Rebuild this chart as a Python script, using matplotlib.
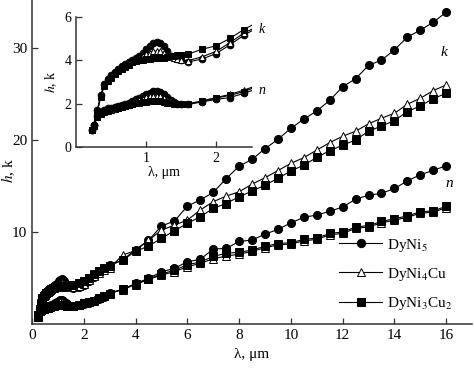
import matplotlib
matplotlib.use("Agg")
import matplotlib.pyplot as plt

plt.rcParams['font.family'] = ['Liberation Serif', 'DejaVu Serif']
plt.rcParams['mathtext.fontset'] = 'stix'

# dalga boyu (um) - kisa dalga bolgesi sik olculmus
lam_short = [0.22, 0.25, 0.30, 0.35, 0.40, 0.45, 0.50, 0.55, 0.60, 0.65, 0.70, 0.75,
             0.80, 0.85, 0.90, 0.95, 1.00, 1.05, 1.10, 1.15, 1.20, 1.25, 1.30,
             1.35, 1.40, 1.45, 1.50, 1.60, 1.80, 2.00, 2.20, 2.40, 2.60, 2.80]
lam_long = [3.0, 3.5, 4.0, 4.5, 5.0, 5.5, 6.0, 6.5, 7.0, 7.5, 8.0, 8.5, 9.0,
            9.5, 10.0, 10.5, 11.0, 11.5, 12.0, 12.5, 13.0, 13.5, 14.0, 14.5,
            15.0, 15.5, 16.0]

# k (sonum katsayisi)
k_ni5_short = [0.8, 1.0, 1.7, 2.4, 2.9, 3.15, 3.3, 3.45, 3.6, 3.72, 3.82, 3.92,
               4.0, 4.1, 4.2, 4.35, 4.5, 4.65, 4.8, 4.85, 4.8, 4.65, 4.4,
               4.2, 4.1, 4.05, 4.0, 3.92, 4.05, 4.3, 4.7, 5.15, 5.5, 5.95]
k_ni4cu_short = [0.8, 1.0, 1.65, 2.35, 2.85, 3.1, 3.25, 3.4, 3.55, 3.67, 3.77, 3.87,
                 3.95, 4.03, 4.1, 4.2, 4.28, 4.35, 4.4, 4.42, 4.4, 4.35, 4.25,
                 4.15, 4.1, 4.05, 4.0, 3.98, 4.15, 4.4, 4.8, 5.25, 5.55, 5.85]
k_ni3cu2_short = [0.8, 0.95, 1.6, 2.3, 2.8, 3.05, 3.2, 3.35, 3.5, 3.6, 3.7, 3.8,
                  3.9, 3.95, 4.0, 4.02, 4.05, 4.05, 4.08, 4.08, 4.1, 4.12, 4.15,
                  4.18, 4.2, 4.22, 4.25, 4.28, 4.5, 4.66, 5.0, 5.41, 5.75, 6.05]

k_ni5_long = [6.45, 6.96, 8.1, 9.1, 10.65, 11.2, 12.8, 13.5, 14.3, 15.8, 17.15,
              17.9, 19.05, 20.07, 21.27, 22.26, 23.15, 24.3, 25.78, 26.65, 28.1,
              28.68, 29.78, 31.18, 31.92, 32.79, 33.88]
k_ni4cu_long = [6.1, 7.5, 8.0, 9.1, 10.2, 10.75, 11.3, 12.39, 13.3, 13.9, 14.38,
                15.2, 15.9, 16.67, 17.46, 18.08, 18.9, 19.71, 20.4, 20.95, 21.75,
                22.36, 22.9, 23.88, 24.53, 25.36, 25.98]
k_ni3cu2_long = [6.35, 6.96, 7.9, 8.48, 9.31, 10.14, 10.94, 11.67, 12.57, 13.1,
                 13.84, 14.45, 15.1, 15.83, 16.63, 17.28, 18.1, 18.84, 19.43,
                 20.0, 20.95, 21.52, 22.1, 23.08, 23.7, 24.49, 25.07]

# n (kirilma indisi)
n_ni5_short = [0.8, 1.0, 1.45, 1.62, 1.72, 1.78, 1.82, 1.86, 1.9, 1.95, 2.0, 2.05,
               2.12, 2.2, 2.28, 2.36, 2.42, 2.5, 2.57, 2.6, 2.55, 2.45, 2.3,
               2.15, 2.06, 2.0, 1.98, 1.96, 2.08, 2.19, 2.28, 2.47, 2.7, 3.0]
n_ni4cu_short = [0.8, 0.95, 1.4, 1.55, 1.65, 1.7, 1.75, 1.78, 1.82, 1.86, 1.9, 1.94,
                 2.0, 2.08, 2.15, 2.22, 2.3, 2.33, 2.35, 2.36, 2.33, 2.27, 2.18,
                 2.1, 2.05, 2.02, 2.0, 2.0, 2.12, 2.28, 2.42, 2.62, 2.85, 3.1]
n_ni3cu2_short = [0.8, 0.95, 1.38, 1.52, 1.62, 1.68, 1.72, 1.76, 1.8, 1.84, 1.88, 1.93,
                  1.98, 2.02, 2.05, 2.07, 2.08, 2.1, 2.1, 2.1, 2.1, 2.08, 2.05,
                  2.02, 2.0, 1.98, 1.97, 1.98, 2.1, 2.25, 2.38, 2.55, 2.8, 3.05]

n_ni5_long = [3.4, 3.77, 4.42, 4.96, 5.69, 6.05, 6.78, 7.03, 8.15, 8.22, 8.98,
              9.13, 9.78, 10.28, 11.0, 11.6, 11.85, 12.25, 12.72, 13.57, 14.0,
              14.2, 14.73, 15.55, 16.23, 16.7, 17.21]
n_ni4cu_long = [3.35, 3.75, 4.3, 4.85, 5.33, 5.69, 6.23, 6.6, 7.1, 7.39, 7.6,
                7.9, 8.3, 8.6, 8.7, 9.05, 9.2, 9.7, 9.85, 10.4, 10.55, 11.0,
                11.3, 11.6, 12.05, 12.15, 12.65]
n_ni3cu2_long = [3.3, 3.8, 4.35, 4.9, 5.45, 5.85, 6.45, 6.75, 7.35, 7.7, 7.8,
                 8.05, 8.45, 8.75, 8.85, 9.2, 9.35, 9.85, 10.0, 10.55, 10.7,
                 11.15, 11.45, 11.75, 12.2, 12.3, 12.8]

labels = ['DyNi$_5$', 'DyNi$_4$Cu', 'DyNi$_3$Cu$_2$']
markers = ['o', '^', 's']
facecolors = ['black', 'white', 'black']

spine_color = '#333333'


def style_axes(ax, fs):
    ax.spines['top'].set_visible(False)
    ax.spines['right'].set_visible(False)
    for s in ('left', 'bottom'):
        ax.spines[s].set_color(spine_color)
        ax.spines[s].set_linewidth(1.1)
    ax.tick_params(direction='in', length=4, width=0.9, colors=spine_color,
                   labelcolor='black', labelsize=fs)


def plot_series(ax, ms, lam, k_sets, n_sets):
    for i in range(3):
        for vals in (k_sets[i], n_sets[i]):
            ax.plot(lam, vals, color='black', lw=0.8, marker=markers[i],
                    ms=ms, mfc=facecolors[i], mec='black', mew=0.7)


fig = plt.figure(figsize=(4.74, 3.80), dpi=100)
ax = fig.add_axes([0.0675, 0.147, 0.9285, 0.853])

lam_all = lam_short + lam_long
k_sets = [k_ni5_short + k_ni5_long, k_ni4cu_short + k_ni4cu_long,
          k_ni3cu2_short + k_ni3cu2_long]
n_sets = [n_ni5_short + n_ni5_long, n_ni4cu_short + n_ni4cu_long,
          n_ni3cu2_short + n_ni3cu2_long]
plot_series(ax, 5.8, lam_all, k_sets, n_sets)

ax.set_xlim(0, 17)
ax.set_ylim(0, 35.2)
ax.set_xticks([0, 2, 4, 6, 8, 10, 12, 14, 16])
ax.set_yticks([10, 20, 30])
style_axes(ax, 11)
ax.set_xlabel('λ, μm', fontsize=11, labelpad=4)
ax.set_ylabel('$h$, k', fontsize=11)
ax.yaxis.set_label_coords(-0.035, 0.475)

ax.text(15.9, 29.5, 'k', fontsize=11, style='italic', ha='center', va='center')
ax.text(16.1, 15.3, 'n', fontsize=11, style='italic', ha='center', va='center')

# lejant
handles = []
for i in range(3):
    h, = ax.plot([], [], color='black', lw=0.8, marker=markers[i], ms=6,
                 mfc=facecolors[i], mec='black', mew=0.7)
    handles.append(h)
ax.legend(handles, labels, loc='lower right', bbox_to_anchor=(0.985, -0.005),
          frameon=False, fontsize=11, handlelength=2.8, handletextpad=0.3,
          labelspacing=0.8)

# ic grafik (kisa dalga boyu)
ins = fig.add_axes([0.161, 0.613, 0.371, 0.343])
plot_series(ins, 4.8, lam_short, [k_ni5_short, k_ni4cu_short, k_ni3cu2_short],
            [n_ni5_short, n_ni4cu_short, n_ni3cu2_short])
ins.set_xlim(0, 2.52)
ins.set_ylim(0, 6)
ins.set_xticks([1, 2])
ins.set_yticks([0, 2, 4, 6])
style_axes(ins, 10)
ins.set_xlabel('λ, μm', fontsize=10, labelpad=1)
ins.set_ylabel('$h$, k', fontsize=10, labelpad=4)
ins.text(2.61, 5.43, 'k', fontsize=10, style='italic', va='center', clip_on=False)
ins.text(2.61, 2.62, 'n', fontsize=10, style='italic', va='center', clip_on=False)

fig.savefig('out.png', dpi=100)
